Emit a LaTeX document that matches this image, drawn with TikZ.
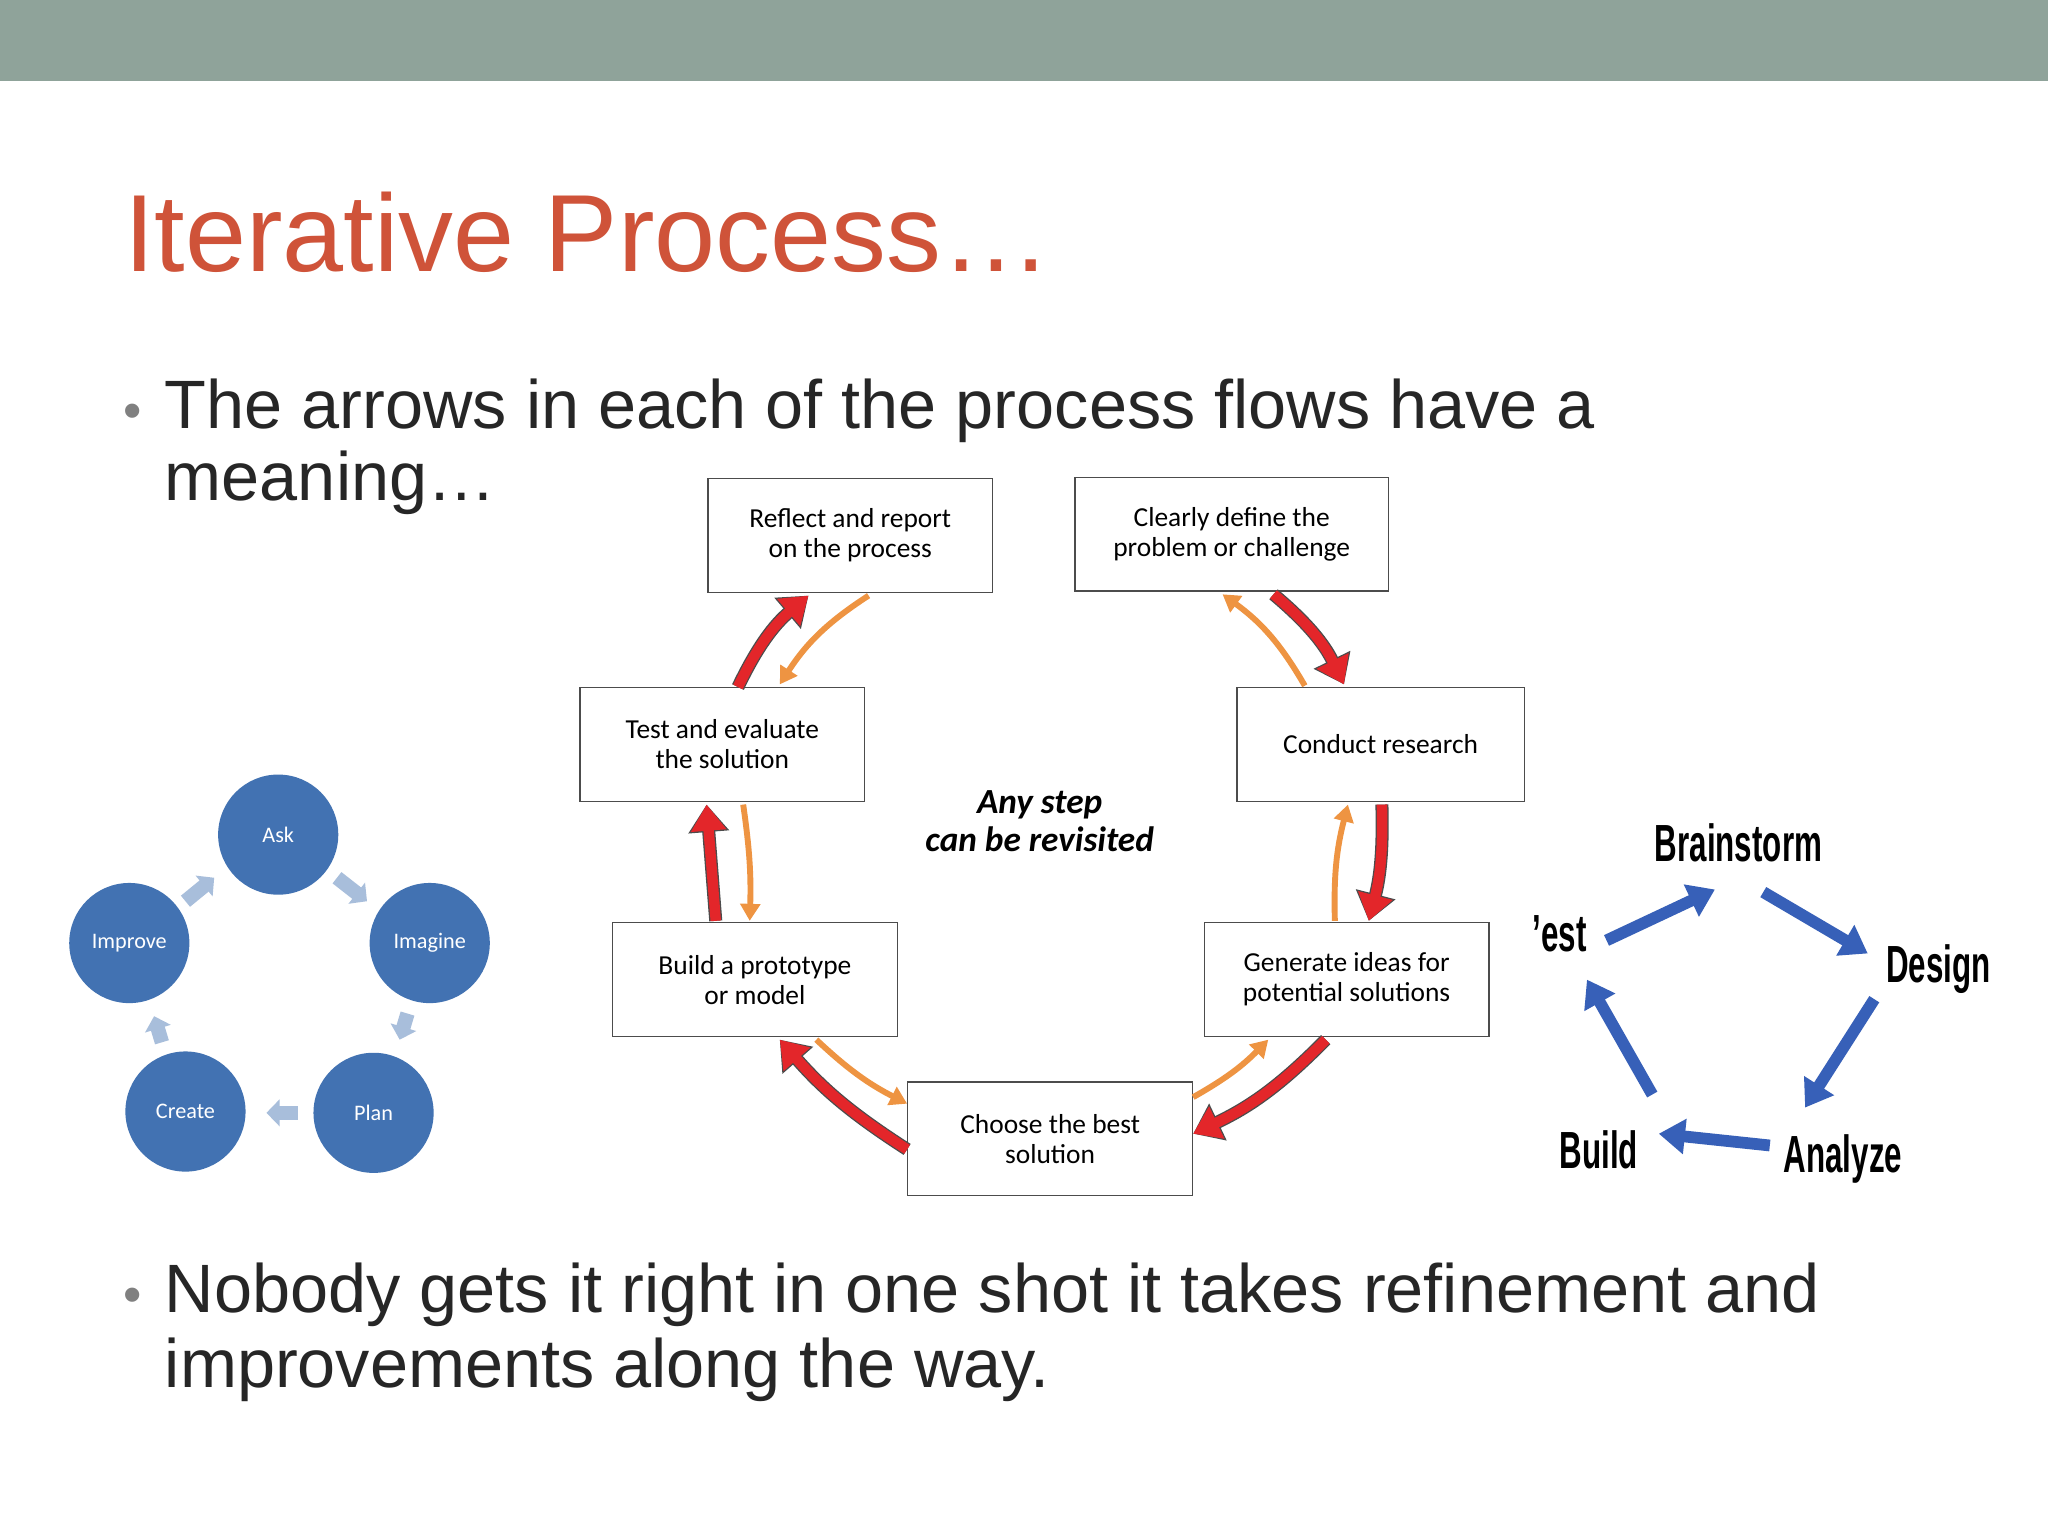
\documentclass[tikz,border=0pt]{standalone}
\usepackage{fontspec}
\setmainfont{Liberation Sans}
\newfontfamily\boxfont{Carlito}
\usetikzlibrary{arrows.meta}
\definecolor{bar}{HTML}{8FA39A}
\definecolor{ttl}{HTML}{CF5339}
\definecolor{txt}{HTML}{262626}
\definecolor{cblue}{HTML}{4272B2}
\definecolor{lblue}{HTML}{A8BEDB}
\definecolor{rblue}{HTML}{3760B8}
\definecolor{rred}{HTML}{E3262A}
\definecolor{oarr}{HTML}{EE9442}
\tikzset{
 procbox/.style={draw=black!70,line width=1pt,minimum width=218pt,minimum height=87pt,align=center,font=\boxfont\fontsize{21}{23}\selectfont,inner sep=0pt},
 redarr/.style={line width=8pt,draw=rred,-{Triangle[length=20pt,width=26pt]},preaction={draw=black!70,line width=10pt,-{Triangle[length=21pt,width=30pt]}}},
 orarr/.style={line width=4.5pt,draw=oarr,-{Triangle[length=13pt,width=15pt]}},
 circ/.style={circle,fill=cblue,minimum size=92pt,text=white,font=\boxfont\fontsize{17}{19}\selectfont},
 larr/.style={line width=11pt,draw=lblue,-{Triangle[length=10pt,width=20pt]},shorten >=0pt},
 barr/.style={line width=9pt,draw=rblue,-{Triangle[length=20pt,width=26pt]}},
 bword/.style={font=\bfseries\fontsize{40}{40}\selectfont,xscale=0.6,text=black},
}
\begin{document}
\begin{tikzpicture}[x=1pt,y=-1pt]
\useasboundingbox (0,0) rectangle (1568,1176);
\fill[white] (0,0) rectangle (1568,1176);
\fill[bar] (0,0) rectangle (1568,62);
\node[anchor=base west,inner sep=0,text=ttl,font=\fontsize{84}{84}\selectfont] (title) at (95,208) {Iterative Process…};
\node[anchor=base west,inner sep=0,text=gray,font=\fontsize{40}{40}\selectfont] (b1) at (94,328) {•};
\node[anchor=base west,inner sep=0,text=txt,font=\fontsize{52.4}{55}\selectfont,align=left] (t1) at (126,328) {The arrows in each of the process flows have a};
\node[anchor=base west,inner sep=0,text=txt,font=\fontsize{52.4}{55}\selectfont] (t1b) at (126,383) {meaning…};
\node[anchor=base west,inner sep=0,text=gray,font=\fontsize{40}{40}\selectfont] (b2) at (94,1005) {•};
\node[anchor=base west,inner sep=0,text=txt,font=\fontsize{52.4}{55}\selectfont] (t2) at (126,1005) {Nobody gets it right in one shot it takes refinement and};
\node[anchor=base west,inner sep=0,text=txt,font=\fontsize{52.4}{55}\selectfont] (t2b) at (126,1062) {improvements along the way.};
% center boxes
\node[procbox] (refl) at (651,410) {Reflect and report\\on the process};
\node[procbox,minimum width=240pt] (clear) at (943,409) {Clearly define the\\problem or challenge};
\node[procbox] (test) at (553,570) {Test and evaluate\\the solution};
\node[procbox,minimum width=220pt] (cond) at (1057,570) {Conduct research};
\node[procbox] (build) at (578,750) {Build a prototype\\or model};
\node[procbox] (gen) at (1031,750) {Generate ideas for\\potential solutions};
\node[procbox] (choose) at (804,872) {Choose the best\\solution};
\node[font=\boxfont\bfseries\itshape\fontsize{27}{29}\selectfont,align=center] (any) at (796,629) {Any step\\can be revisited};
% arrows
\draw[redarr] ([xshift=12pt]test.north) to[bend left=12] ([xshift=-32pt,yshift=-2pt]refl.south);
\draw[orarr] ([xshift=14pt,yshift=-2pt]refl.south) to[bend right=12] ([xshift=44pt,yshift=2pt]test.north);
\draw[redarr] ([xshift=32pt,yshift=-2pt]clear.south) to[bend left=12] ([xshift=-28pt,yshift=2pt]cond.north);
\draw[orarr] ([xshift=-58pt,yshift=1pt]cond.north) to[bend right=12] ([xshift=-7pt,yshift=-2pt]clear.south);
\draw[redarr] ([xshift=1pt,yshift=-2pt]cond.south) to[bend left=8] ([xshift=17pt,yshift=1pt]gen.north);
\draw[orarr] ([xshift=-9pt,yshift=1pt]gen.north) to[bend left=8] ([xshift=-25pt,yshift=-2pt]cond.south);
\draw[redarr] ([xshift=-16pt,yshift=-2pt]gen.south) to[bend left=10] ([yshift=4pt]choose.east);
\draw[orarr] ([yshift=32pt]choose.east) to[bend right=8] ([xshift=-60pt,yshift=-2pt]gen.south);
\draw[redarr] ([yshift=-8pt]choose.west) to[bend left=8] ([xshift=19pt,yshift=-2pt]build.south);
\draw[orarr] ([xshift=47pt,yshift=-2pt]build.south) to[bend right=8] ([yshift=27pt]choose.west);
\draw[redarr] ([xshift=-30pt,yshift=1pt]build.north) to ([xshift=-12pt,yshift=-2pt]test.south);
\draw[orarr] ([xshift=16pt,yshift=-2pt]test.south) to[bend left=5] ([xshift=-4pt,yshift=1pt]build.north);
% left cycle
\node[circ] (ask) at (213,639) {Ask};
\node[circ] (imag) at (329,722) {Imagine};
\node[circ] (plan) at (286,852) {Plan};
\node[circ] (crea) at (142,851) {Create};
\node[circ] (impr) at (99,722) {Improve};
\draw[larr] (258,672) -- (281,690);
\draw[larr] (312,776) -- (306,796);
\draw[larr] (228,852) -- (204,852);
\draw[larr] (124,798) -- (118,778);
\draw[larr] (142,690) -- (164,672);
% right cycle
\node[bword] (brain) at (1331,645) {Brainstorm};
\node[bword] (design) at (1484,742) {Design};
\node[bword] (anal) at (1411,887) {Analyze};
\node[bword] (bld) at (1224,880) {Build};
\node[bword,anchor=east] (tst) at (1217,715) {'est};
\draw[barr] (1230,720) -- (1313,681);
\draw[barr] (1350,683) -- (1430,730);
\draw[barr] (1435,765) -- (1382,848);
\draw[barr] (1355,877) -- (1270,868);
\draw[barr] (1265,838) -- (1215,750);
\end{tikzpicture}
\end{document}
